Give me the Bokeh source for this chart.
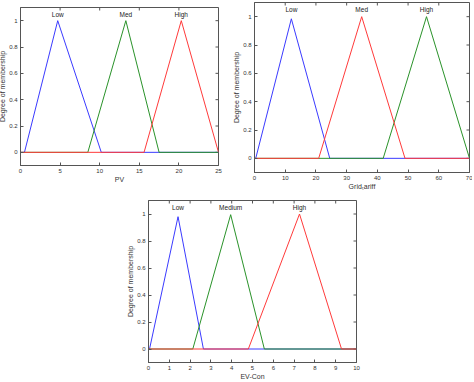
import math
from bokeh.plotting import figure
from bokeh.models import FixedTicker, Range1d, Spacer
from bokeh.layouts import row, column
from bokeh.core.properties import value
from bokeh.embed import file_html
from bokeh.resources import INLINE

# ---------------- data ----------------
PV_RANGE = [0, 25]
PV_TICKS = [0, 5, 10, 15, 20, 25]
PV_NAMES = ["Low", "Med", "High"]
PV_PARAMS = [[0.5, 4.7, 10.2], [8.5, 13.3, 17.5], [15.6, 20.3, 25.0]]
PV_PEAKS = [1.0, 1.0, 1.0]
PV_COLORS = ["blue", "green", "red"]
PV_ORDER = [0, 1, 2]

GRID_RANGE = [0, 70]
GRID_TICKS = [0, 10, 20, 30, 40, 50, 60, 70]
GRID_NAMES = ["Low", "Med", "High"]
GRID_PARAMS = [[0.4, 12.0, 24.5], [20.9, 34.9, 49.0], [41.9, 56.0, 70.0]]
GRID_PEAKS = [0.985, 1.0, 1.0]
GRID_COLORS = ["blue", "red", "green"]
GRID_ORDER = [0, 2, 1]

EV_RANGE = [0, 10]
EV_TICKS = [0, 1, 2, 3, 4, 5, 6, 7, 8, 9, 10]
EV_NAMES = ["Low", "Medium", "High"]
EV_PARAMS = [[0.05, 1.42, 2.64], [2.13, 3.95, 5.57], [4.8, 7.26, 9.28]]
EV_PEAKS = [0.98, 0.995, 1.0]
EV_COLORS = ["blue", "green", "red"]
EV_ORDER = [0, 1, 2]

Y_RANGE = [-0.1, 1.1]
Y_TICKS = [0, 0.2, 0.4, 0.6, 0.8, 1.0]
Y_LABEL = "Degree of membership"

COLOR_MAP = {"blue": "#3a3aff", "green": "#2a922a", "red": "#ff3a3a"}
FONT = "Liberation Sans"
AXIS_COLOR = "#555555"


def style_axis(ax):
    ax.axis_line_color = AXIS_COLOR
    ax.major_tick_line_color = AXIS_COLOR
    ax.major_tick_in = 3
    ax.major_tick_out = 0
    ax.minor_tick_line_color = None
    ax.major_label_text_font = FONT
    ax.major_label_text_color = "#333333"
    ax.major_label_text_font_size = "6px"
    ax.major_label_standoff = 3
    ax.axis_label_text_font = FONT
    ax.axis_label_text_font_style = "normal"
    ax.axis_label_text_color = "#333333"
    ax.axis_label_text_font_size = "7px"
    ax.axis_label_standoff = 0


def mf_plot(xr, xticks, names, params, peaks, colors, order, xlabel,
            width, height, bl, br, bt, bb):
    p = figure(width=width, height=height, output_backend="svg",
               toolbar_location=None,
               x_range=Range1d(*xr), y_range=Range1d(*Y_RANGE),
               min_border_left=bl, min_border_right=br,
               min_border_top=bt, min_border_bottom=bb)
    p.grid.visible = False
    p.outline_line_color = AXIS_COLOR
    p.xaxis.ticker = FixedTicker(ticks=xticks)
    p.yaxis.ticker = FixedTicker(ticks=Y_TICKS)
    p.xaxis.axis_label = xlabel
    p.yaxis.axis_label = Y_LABEL
    style_axis(p.xaxis[0])
    style_axis(p.yaxis[0])
    # inward ticks on the top and right edges of the box
    p.ray(x=xticks, y=[Y_RANGE[1]] * len(xticks), length=3, length_units="screen",
          angle=-math.pi / 2, line_color=AXIS_COLOR, line_width=1)
    p.ray(x=[xr[1]] * len(Y_TICKS), y=Y_TICKS, length=3, length_units="screen",
          angle=math.pi, line_color=AXIS_COLOR, line_width=1)
    for i in order:
        a, b, c = params[i]
        xs = [xr[0], a, b, c, xr[1]]
        ys = [0, 0, peaks[i], 0, 0]
        p.line(xs, ys, line_color=COLOR_MAP[colors[i]], line_width=1)
    lx = [prm[1] for prm in params]
    ly = [1.05 for _ in params]
    p.text(x=lx, y=ly, text=names, text_align="center", text_baseline="middle",
           text_font=value(FONT), text_font_size="6.5px", text_color="#222222")
    return p


p1 = mf_plot(PV_RANGE, PV_TICKS, PV_NAMES, PV_PARAMS, PV_PEAKS, PV_COLORS,
             PV_ORDER, "PV", 234, 187, 21, 12, 2, 27)
p2 = mf_plot(GRID_RANGE, GRID_TICKS, GRID_NAMES, GRID_PARAMS, GRID_PEAKS,
             GRID_COLORS, GRID_ORDER, "Grid\u209cariff", 242, 192, 21, 3, 2, 20)
p3 = mf_plot(EV_RANGE, EV_TICKS, EV_NAMES, EV_PARAMS, EV_PEAKS, EV_COLORS,
             EV_ORDER, "EV-Con", 242, 190, 21, 10, 8, 19)

left_col = column(Spacer(width=234, height=5), p1)
lay = column(row(left_col, p2), row(Spacer(width=128, height=190), p3))
lay.styles = {"margin": "0px 0px 0px -4px"}

open("out.html", "w").write(file_html(lay, INLINE))
